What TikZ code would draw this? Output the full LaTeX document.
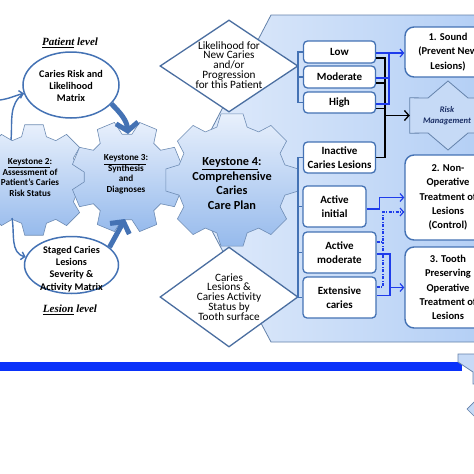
\documentclass[tikz,border=0pt]{standalone}
\usepackage{fontspec}
\setmainfont{Carlito}
\newfontfamily\serifit{Liberation Serif}
\usetikzlibrary{arrows.meta,shapes.geometric,calc}
\definecolor{bord}{RGB}{68,114,180}
\definecolor{dbord}{RGB}{74,110,160}
\definecolor{gborder}{RGB}{110,140,180}
\definecolor{gtop}{RGB}{232,240,252}
\definecolor{gbot}{RGB}{150,186,236}
\definecolor{pl}{RGB}{226,236,251}
\definecolor{pr}{RGB}{178,206,245}
\definecolor{pborder}{RGB}{100,130,170}
\definecolor{vblue}{RGB}{30,60,235}
\definecolor{barblue}{RGB}{10,50,250}
\definecolor{rmfill}{RGB}{198,218,246}
\definecolor{navy}{RGB}{25,45,100}
\tikzset{
  gearst/.style={draw=gborder, line width=0.6pt, top color=gtop, bottom color=gbot},
  panelst/.style={draw=pborder, line width=0.8pt, left color=pl, right color=pr},
  fragst/.style={draw=pborder, line width=0.7pt, fill=rmfill},
  ell/.style={ellipse, draw=bord, line width=1.5pt, fill=white, inner sep=0pt},
  elltxt/.style={font=\bfseries\fontsize{10.2}{12.3}\selectfont, align=center, inner sep=0pt},
  dia/.style={diamond, draw=dbord, line width=1.3pt, fill=white, inner sep=0pt},
  dtxt/.style={font=\fontsize{11.2}{9.9}\selectfont, align=center, inner sep=0pt},
  gtxtsmall/.style={font=\bfseries\fontsize{9.2}{10.5}\selectfont, align=center, inner sep=0pt},
  gtxtbig/.style={font=\bfseries\fontsize{12.3}{14.5}\selectfont, align=center, inner sep=0pt},
  lvl/.style={font=\serifit\bfseries\itshape\fontsize{11}{13}\selectfont, inner sep=0pt},
  lbox/.style={draw=bord, line width=1.3pt, fill=white, rounded corners=4pt, minimum width=72pt,
    font=\bfseries\fontsize{11}{14}\selectfont, align=center, inner sep=0pt},
  rbox/.style={draw=bord, line width=1.4pt, fill=white, rounded corners=9pt, minimum width=86pt,
    font=\bfseries\fontsize{10.5}{14.2}\selectfont, align=center, inner sep=0pt},
  rmst/.style={draw=pborder, line width=0.8pt, fill=rmfill},
  rmtxt/.style={font=\bfseries\itshape\fontsize{8.5}{11}\selectfont, text=navy, align=center, inner sep=0pt},
  brk/.style={draw=bord, line width=1.3pt},
  bl/.style={draw=vblue, line width=1.2pt},
  blk/.style={draw=black, line width=1.3pt},
  dashst/.style={dash pattern=on 3pt off 1.5pt on 1pt off 1.5pt},
  arr/.style={-{Straight Barb[length=3.5pt,width=8pt]}},
  arrk/.style={-{Straight Barb[length=4.5pt,width=10pt]}},
  thk/.style={draw=bord, line width=5pt, -{Straight Barb[length=8pt,width=22pt]}},
  thinb/.style={draw=bord, line width=1.4pt},
}
\newcommand\mygear[5]{%
  \begin{scope}[shift={(#1,#2)}]
    \path[gearst] ({#5-16}:#4) \foreach \k in {0,...,7}{ -- ({#5+\k*45-16}:#4) -- ({#5+\k*45-9.5}:#3) -- ({#5+\k*45+9.5}:#3) -- ({#5+\k*45+16}:#4)} -- cycle;
  \end{scope}}
\begin{document}
\begin{tikzpicture}[x=1pt,y=-1pt]
\useasboundingbox (0,0) rectangle (474,474);
\clip (0,0) rectangle (474,474);
\fill[white] (0,0) rectangle (474,474);
% big panel
\path[panelst] (271,15) -- (490,15) -- (490,342) -- (271,342) -- (185,180) -- cycle;
% bottom bar and fragments
\fill[barblue] (0,362) rectangle (462,371);
\path[fragst] (458,354) -- (480,354) -- (480,384) -- (473,384) -- (473,372) -- (458,362) -- cycle;
\path[fragst] (467,409) -- (477,399) -- (477,419) -- cycle;
% gears
\mygear{34}{180}{56}{45}{0}
\mygear{127}{177}{56}{43}{22.5}
\mygear{232}{180}{67}{55}{0}
\coordinate (k2a) at (11,140);
\coordinate (k2b) at (12,218);
\coordinate (k3n) at (128,134);
\coordinate (k3s) at (125,219);
\node[gtxtsmall] (k2t) at (30,177.5) {\underline{Keystone 2}:\\Assessment of\\Patient’s Caries\\Risk Status};
\node[gtxtsmall] (k3t) at (126,174.5) {\underline{Keystone 3}:\\Synthesis\\and\\Diagnoses};
\node[gtxtbig] (k4t) at (232,183.5) {\underline{Keystone 4}:\\Comprehensive\\Caries\\Care Plan};
% diamonds
\node[dia, minimum width=138pt, minimum height=92pt] (d1) at (229,66) {};
\node[dtxt] (d1t) at (229,65) {Likelihood for\\New Caries\\and/or\\Progression\\for this Patient};
\node[dia, minimum width=138pt, minimum height=100pt] (d2) at (229,297) {};
\node[dtxt] (d2t) at (229,297) {Caries\\Lesions \&\\Caries Activity\\Status by\\Tooth surface};
% ellipses
\node[ell, minimum width=96pt, minimum height=66pt] (risk) at (71,85) {};
\node[elltxt] (riskt) at (71,86) {Caries Risk and\\Likelihood\\Matrix};
\node[ell, minimum width=94pt, minimum height=57pt] (staged) at (71.5,265) {};
\node[elltxt] (stagedt) at (71.5,269) {Staged Caries\\Lesions\\Severity \&\\Activity Matrix};
% level labels
\node[lvl] (pl) at (70,43) {\underline{Patient} level};
\node[lvl] (ll) at (70,310) {\underline{Lesion} level};
% left boxes
\node[lbox, minimum height=22pt] (low) at (339.5,52) {Low};
\node[lbox, minimum height=22pt] (mod) at (339.5,77) {Moderate};
\node[lbox, minimum height=21pt] (high) at (339.5,102.5) {High};
\node[lbox, minimum height=31pt] (inact) at (339.5,157.5) {Inactive\\Caries Lesions};
\node[lbox, minimum width=63pt, minimum height=41pt] (actini) at (334.5,206.5) {Active\\initial};
\node[lbox, minimum width=73pt, minimum height=41pt] (actmod) at (339.5,252.5) {Active\\moderate};
\node[lbox, minimum width=73pt, minimum height=41pt] (ext) at (339.5,297.5) {Extensive\\caries};
% right boxes
\node[rbox, minimum height=50pt] (sound) at (448,52) {1. Sound\\(Prevent New\\Lesions)};
\node[rbox, minimum height=85pt] (nonop) at (448,197.5) {2. Non-\\Operative\\Treatment of\\Lesions\\(Control)};
\node[rbox, minimum height=81pt] (toothp) at (448,287.5) {3. Tooth\\Preserving\\Operative\\Treatment of\\Lesions};
% risk management
\node[minimum width=80pt, minimum height=35pt, inner sep=0pt] (rm) at (450,115.5) {};
\path[rmst] (rm.north west) -- (428,98) -- (448,81) -- (468,98) -- (rm.north east) -- (rm.south east) -- (468,133) -- (448,150) -- (428,133) -- (rm.south west) -- cycle;
\node[rmtxt] (rmt) at (447,115.5) {Risk\\Management};
% brackets
\coordinate (b1) at (298,0);
\draw[brk] (low.west) -- (low.west -| b1) -- (high.west -| b1) -- (high.west);
\draw[brk] (mod.west) -- (mod.west -| b1);
\draw[brk] (inact.west) -- (inact.west -| b1) -- (ext.west -| b1) -- (ext.west);
\draw[brk] (actini.west) -- (actini.west -| b1);
\draw[brk] (actmod.west) -- (actmod.west -| b1);
% black connectors
\coordinate (kv) at (385,0);
\draw[blk] ($(low.east)+(0,6)$) -| (inact.east -| kv) -- (inact.east);
\draw[blk] ($(mod.east)+(0,6)$) -- ($(mod.east -| kv)+(0,6)$);
\draw[blk] ($(high.east)+(0,6)$) -- ($(high.east -| kv)+(0,6)$);
\draw[blk,arrk] (rm.west -| kv) -- (rm.west);
% blue connectors
\coordinate (bv1) at (389,0);
\draw[bl,arr] ($(low.east)+(0,1)$) -- ($(sound.west)+(0,1)$);
\draw[bl] ($(high.east)+(0,1.5)$) -| ($(low.east -| bv1)+(0,1)$);
\draw[bl] ($(mod.east)+(0,1)$) -- ($(mod.east -| bv1)+(0,1)$);
\draw[bl,arr] ($(actini.east)+(0,2.5)$) -- ++(13,0) |- (nonop.west);
\coordinate (dv) at (383,0);
\draw[bl,dashst,arr] ($(actmod.east)+(0,-10.5)$) -| ($(nonop.west -| dv)+(0,14.5)$) -- ($(nonop.west)+(0,14.5)$);
\draw[bl,dashst] ($(ext.east)+(0,-10.5)$) -| ($(actmod.east -| dv)+(0,-10.5)$);
\coordinate (sv) at (390,0);
\draw[bl] ($(actmod.east)+(0,1.5)$) -| ($(ext.east -| sv)+(0,-2)$) -- ($(ext.east)+(0,-2)$);
\draw[bl,arr] (toothp.west -| sv) -- (toothp.west);
% left thin arrows
\coordinate (lft) at (0,100);
\draw[thinb,arr] (lft) to[out=8,in=195] (risk.190);
\draw[thinb] (k2a) to[out=85,in=215] (risk.190);
\draw[thinb,arr] (k2b) to[out=-80,in=165] (staged.170);
% thick arrows
\draw[thk] (risk.-25) to[out=-45,in=95] (k3n);
\draw[thk] (staged.25) -- (k3s);
\end{tikzpicture}
\end{document}
